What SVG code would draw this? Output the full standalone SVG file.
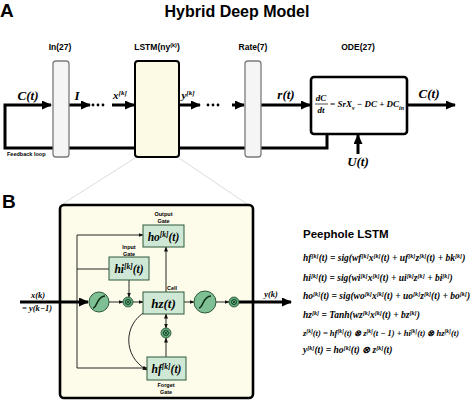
<svg xmlns="http://www.w3.org/2000/svg" width="474" height="400" viewBox="0 0 474 400">
<defs>
<marker id="ah" markerUnits="userSpaceOnUse" markerWidth="10" markerHeight="9" refX="9" refY="4.5" orient="auto"><path d="M0,0 L10,4.5 L0,9 Z" fill="#000"/></marker>
<marker id="as" markerUnits="userSpaceOnUse" markerWidth="5" markerHeight="4" refX="4.5" refY="2" orient="auto-start-reverse"><path d="M0,0 L5,2 L0,4 Z" fill="#111"/></marker>
<style>
.sans{font-family:"Liberation Sans",Arial,sans-serif;font-weight:bold;fill:#000}
.m{font-family:"Liberation Serif","Times New Roman",serif;font-style:italic;font-weight:bold;fill:#000}
.up{font-size:65%;baseline-shift:super}
.dn{font-size:65%;baseline-shift:sub}
.thick{fill:none;stroke:#000;stroke-width:3}
.thin{fill:none;stroke:#111;stroke-width:0.9}
.bar{fill:#f5f5f5;stroke:#7a7a7a;stroke-width:1.3}
.gbox{fill:#cfe8d5;stroke:#2c5a3a;stroke-width:1}
.sig{fill:#7fbf94;stroke:#2c5a3a;stroke-width:1}
.mul{fill:#5fa97c;stroke:#1f4a2c;stroke-width:0.8}
.x{stroke:#133a20;stroke-width:0.8;fill:none}
.gl{font-size:5.5px}
</style>
</defs>

<text class="sans" x="0" y="17" font-size="19">A</text>
<text class="sans" x="237" y="17" font-size="16" text-anchor="middle">Hybrid Deep Model</text>
<text class="sans" x="2" y="208" font-size="19">B</text>

<g id="labels-top" class="sans" font-size="8.5" text-anchor="middle">
<text x="60" y="50">In(27)</text>
<text x="157" y="50">LSTM(ny<tspan class="up">(k)</tspan>)</text>
<text x="253" y="50">Rate(7)</text>
<text x="358" y="50">ODE(27)</text>
</g>

<g id="zoom-lines" stroke="#dcdcdc" stroke-width="1">
<line x1="135" y1="158" x2="61" y2="205"/>
<line x1="179" y1="158" x2="250" y2="206"/>
</g>

<g id="connectors">
<path class="thick" d="M327,134 V148 H5 V105 H51" marker-end="url(#ah)"/>
<path class="thick" d="M69,105 H90" marker-end="url(#ah)"/>
<path class="thick" d="M112,105 H134" marker-end="url(#ah)"/>
<path class="thick" d="M179,105 H200" marker-end="url(#ah)"/>
<path class="thick" d="M232,105 H244" marker-end="url(#ah)"/>
<path class="thick" d="M261,105 H310" marker-end="url(#ah)"/>
<path class="thick" d="M407,105 H455" marker-end="url(#ah)"/>
<path class="thick" d="M358,154 V135" marker-end="url(#ah)"/>
<g fill="#000">
<circle cx="93" cy="105" r="1.4"/><circle cx="98" cy="105" r="1.4"/><circle cx="103" cy="105" r="1.4"/>
<circle cx="208" cy="105" r="1.4"/><circle cx="213" cy="105" r="1.4"/><circle cx="218" cy="105" r="1.4"/>
</g>
</g>

<g id="in-bar"><rect class="bar" x="53" y="61" width="16" height="96" rx="3"/></g>
<g id="lstm-box"><rect x="135" y="61" width="44" height="96" rx="3" fill="#fcf9e4" stroke="#000" stroke-width="2"/></g>
<g id="rate-bar"><rect class="bar" x="245" y="61" width="16" height="96" rx="3"/></g>
<g id="ode-box">
<rect x="311" y="77" width="96" height="57" rx="3" fill="#fff" stroke="#000" stroke-width="2.6"/>
<text class="m" x="321" y="101" font-size="9" text-anchor="middle">dC</text>
<line x1="315" y1="104" x2="328" y2="104" stroke="#000" stroke-width="0.7"/>
<text class="m" x="321" y="113" font-size="9" text-anchor="middle">dt</text>
<text class="m" x="330" y="107" font-size="9">= SrX<tspan class="dn">v</tspan> − DC + DC<tspan class="dn">in</tspan></text>
</g>

<g id="top-labels">
<text class="m" x="28" y="100" font-size="13" text-anchor="middle">C(t)</text>
<text class="m" x="77" y="100" font-size="13" text-anchor="middle">I</text>
<text class="m" x="120" y="99" font-size="11" text-anchor="middle">x<tspan class="up">[k]</tspan></text>
<text class="m" x="188" y="99" font-size="11" text-anchor="middle">y<tspan class="up">[k]</tspan></text>
<text class="m" x="286" y="99" font-size="13" text-anchor="middle">r(t)</text>
<text class="m" x="429" y="98" font-size="13" text-anchor="middle">C(t)</text>
<text class="m" x="358" y="166" font-size="13" text-anchor="middle">U(t)</text>
<text class="sans" x="7" y="156" font-size="5.5">Feedback loop</text>
</g>

<g id="lstm-cell">
<rect x="60" y="205" width="193" height="193" rx="4" fill="#fdfbea" stroke="#000" stroke-width="2.6"/>
</g>

<g id="cell-connectors">
<path class="thick" d="M20,302 H88" marker-end="url(#ah)"/>
<path class="thin" d="M77,302 V235 H143" marker-end="url(#as)"/>
<path class="thin" d="M77,302 V368 H147" marker-end="url(#as)"/>
<path class="thin" d="M77,269 H109"/>
<path class="thin" d="M109,302 H123" marker-end="url(#as)"/>
<path class="thin" d="M133,302 H143" marker-end="url(#as)"/>
<path class="thin" d="M129,280 V297" marker-end="url(#as)"/>
<path class="thin" d="M166,292 V247" marker-end="url(#as)"/>
<path class="thin" d="M184,302 H194" marker-end="url(#as)"/>
<path class="thin" d="M216,302 H229" marker-end="url(#as)"/>
<path class="thin" d="M166,357 V338" marker-end="url(#as)"/>
<path class="thin" d="M166,328 V314" marker-start="url(#as)" marker-end="url(#as)"/>
<path class="thin" d="M145,312 C124,324 122,356 147,370" marker-end="url(#as)"/>
<path class="thick" d="M239,302 H291" marker-end="url(#ah)"/>
</g>

<g id="output-gate">
<rect class="gbox" x="143" y="225" width="41" height="22"/>
<text class="m" x="163.5" y="241" font-size="11.5" text-anchor="middle">ho<tspan class="up">[k]</tspan>(t)</text>
<text class="sans gl" x="163.5" y="216" text-anchor="middle">Output</text>
<text class="sans gl" x="163.5" y="223" text-anchor="middle">Gate</text>
</g>
<g id="input-gate">
<rect class="gbox" x="109" y="257" width="40" height="23"/>
<text class="m" x="129" y="273" font-size="11.5" text-anchor="middle">hi<tspan class="up">[k]</tspan>(t)</text>
<text class="sans gl" x="129" y="249" text-anchor="middle">Input</text>
<text class="sans gl" x="129" y="256" text-anchor="middle">Gate</text>
</g>
<g id="cell">
<rect class="gbox" x="143" y="292" width="41" height="22"/>
<text class="m" x="163.5" y="308" font-size="13" text-anchor="middle">hz(t)</text>
<text class="sans gl" x="172" y="290" text-anchor="middle">Cell</text>
</g>
<g id="forget-gate">
<rect class="gbox" x="147" y="357" width="39" height="23"/>
<text class="m" x="166.5" y="373" font-size="11.5" text-anchor="middle">hf<tspan class="up">[k]</tspan>(t)</text>
<text class="sans gl" x="166" y="387" text-anchor="middle">Forget</text>
<text class="sans gl" x="166" y="394" text-anchor="middle">Gate</text>
</g>
<g id="sigmoid-in">
<circle class="sig" cx="99" cy="302" r="10"/>
<path d="M93,308 C97,308 97,296 105,296" fill="none" stroke="#0d2b16" stroke-width="1.6"/>
</g>
<g id="sigmoid-out">
<circle class="sig" cx="205" cy="302" r="11"/>
<path d="M199,308 C203,308 203,296 211,296" fill="none" stroke="#0d2b16" stroke-width="1.6"/>
</g>
<g id="mult-in">
<circle class="mul" cx="128" cy="302" r="5"/>
<circle class="x" cx="128" cy="302" r="2.6"/>
<path class="x" d="M126.2,300.2 L129.8,303.8 M129.8,300.2 L126.2,303.8"/>
</g>
<g id="mult-forget">
<circle class="mul" cx="166" cy="333" r="5"/>
<circle class="x" cx="166" cy="333" r="2.6"/>
<path class="x" d="M164.2,331.2 L167.8,334.8 M167.8,331.2 L164.2,334.8"/>
</g>
<g id="mult-out">
<circle class="mul" cx="234" cy="302" r="5"/>
<circle class="x" cx="234" cy="302" r="2.6"/>
<path class="x" d="M232.2,300.2 L235.8,303.8 M235.8,300.2 L232.2,303.8"/>
</g>

<g id="cell-labels">
<text class="m" x="38" y="298" font-size="8.5" text-anchor="middle">x(k)</text>
<text class="m" x="37" y="311" font-size="8.5" text-anchor="middle">= y(k−1)</text>
<text class="m" x="271" y="297" font-size="8.5" text-anchor="middle">y(k)</text>
</g>

<g id="equations">
<text class="sans" x="303" y="238" font-size="11.5">Peephole LSTM</text>
<g class="m" font-size="9.5">
<text x="303" y="261">hf<tspan class="up">[k]</tspan>(t) = sig(wf<tspan class="up">[k]</tspan>x<tspan class="up">[k]</tspan>(t) + uf<tspan class="up">[k]</tspan>z<tspan class="up">[k]</tspan>(t) + bk<tspan class="up">[k]</tspan>)</text>
<text x="303" y="281">hi<tspan class="up">[k]</tspan>(t) = sig(wi<tspan class="up">[k]</tspan>x<tspan class="up">[k]</tspan>(t) + ui<tspan class="up">[k]</tspan>z<tspan class="up">[k]</tspan> + bi<tspan class="up">[k]</tspan>)</text>
<text x="303" y="299">ho<tspan class="up">[k]</tspan>(t) = sig(wo<tspan class="up">[k]</tspan>x<tspan class="up">[k]</tspan>(t) + uo<tspan class="up">[k]</tspan>z<tspan class="up">[k]</tspan>(t) + bo<tspan class="up">[k]</tspan>)</text>
<text x="303" y="318">hz<tspan class="up">[k]</tspan> = Tanh(wz<tspan class="up">[k]</tspan>x<tspan class="up">[k]</tspan>(t) + bz<tspan class="up">[k]</tspan>)</text>
<text x="303" y="336" font-size="8.5">z<tspan class="up">[k]</tspan>(t) = hf<tspan class="up">[k]</tspan>(t) ⊗ z<tspan class="up">[k]</tspan>(t − 1) + hi<tspan class="up">[k]</tspan>(t) ⊗ hz<tspan class="up">[k]</tspan>(t)</text>
<text x="303" y="353">y<tspan class="up">[k]</tspan>(t) = ho<tspan class="up">[k]</tspan>(t) ⊗ z<tspan class="up">[k]</tspan>(t)</text>
</g>
</g>
</svg>
